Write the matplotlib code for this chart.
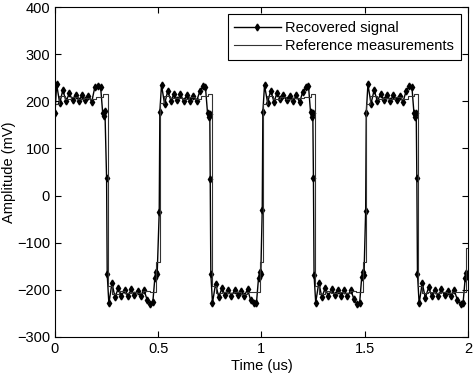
import numpy as np
import matplotlib
matplotlib.use('Agg')
import matplotlib.pyplot as plt

plt.rcParams['font.family'] = ['Liberation Sans', 'DejaVu Sans']

# recovered signal: edge times (us) and sample offsets inside each half period
rise_t = [-0.003, 0.505, 1.004, 1.505]
fall_t = [0.250, 0.752, 1.252, 1.753]
tau = [0.000, 0.003, 0.011, 0.026, 0.041, 0.057, 0.072, 0.088, 0.103, 0.119,
       0.134, 0.150, 0.165, 0.181, 0.196, 0.212, 0.224, 0.234, 0.240, 0.245]

high_1 = [175, 175, 236, 196, 224, 200, 217, 203, 214, 201, 213, 202, 212, 199, 230, 233, 231, 176, 168, 180]
high_2 = [-35, 178, 235, 194, 222, 201, 216, 202, 215, 200, 214, 201, 211, 200, 221, 232, 230, 175, 166, 174]
high_3 = [-30, 177, 234, 197, 223, 199, 218, 204, 213, 202, 212, 200, 213, 198, 220, 231, 233, 177, 167, 175]
high_4 = [-33, 176, 236, 195, 224, 200, 216, 203, 214, 201, 213, 202, 212, 199, 222, 232, 231, 175, 166, 175]

low_1 = [37, -167, -229, -186, -216, -196, -213, -200, -214, -199, -212, -202, -214, -200, -221, -230, -226, -174, -162, -167]
low_2 = [35, -166, -228, -187, -215, -197, -212, -201, -213, -200, -211, -203, -213, -199, -222, -229, -228, -175, -163, -166]
low_3 = [38, -168, -227, -185, -216, -196, -214, -199, -212, -200, -213, -201, -214, -200, -220, -231, -227, -173, -162, -168]
low_4 = [37, -166, -229, -186, -217, -195, -213, -200, -214, -199, -212, -202, -213, -201, -221, -230, -228, -176, -164, -170]

# reference measurements: sample-and-hold levels
ref_rise = [0.0, 0.508, 1.008, 1.508]
ref_fall = [0.258, 0.759, 1.258, 1.759]
ref_tau = [0.000, 0.020, 0.050, 0.080, 0.110, 0.140, 0.170, 0.200, 0.232]
ref_high = [
    [195, 212, 206, 209, 205, 208, 206, 210, 216],
    [196, 211, 207, 208, 206, 209, 205, 211, 215],
    [194, 212, 205, 209, 206, 208, 207, 210, 216],
    [195, 211, 206, 208, 205, 209, 206, 211, 215],
]
ref_low = [
    [-192, -208, -203, -207, -204, -207, -203, -205, -140],
    [-193, -207, -204, -206, -205, -208, -204, -204, -142],
    [-191, -208, -203, -207, -204, -206, -203, -205, -141],
    [-192, -207, -204, -206, -205, -207, -204, -205, -112],
]

highs = [high_1, high_2, high_3, high_4]
lows = [low_1, low_2, low_3, low_4]

t_rec, v_rec = [], []
for k in range(4):
    t_rec += [rise_t[k] + d for d in tau]
    v_rec += highs[k]
    t_rec += [fall_t[k] + d for d in tau]
    v_rec += lows[k]

t_ref, v_ref = [], []
for k in range(4):
    t_ref += [ref_rise[k] + d for d in ref_tau]
    v_ref += ref_high[k]
    t_ref += [ref_fall[k] + d for d in ref_tau]
    v_ref += ref_low[k]
t_ref.append(2.0)
v_ref.append(v_ref[-1])

fig = plt.figure(figsize=(4.74, 3.76), dpi=100)
ax = fig.add_axes([0.116, 0.104, 0.871, 0.877])

ax.plot(t_rec, v_rec, color='black', lw=1.0, marker='d', ms=3.5,
        label='Recovered signal')
ax.plot(t_ref, v_ref, color='#333333', lw=0.8, drawstyle='steps-post',
        label='Reference measurements')

ax.set_xlim(0, 2)
ax.set_ylim(-300, 400)
ax.set_xticks([0, 0.5, 1, 1.5, 2])
ax.set_xticklabels(['0', '0.5', '1', '1.5', '2'])
ax.set_yticks(np.arange(-300, 401, 100))
ax.tick_params(direction='in', top=True, right=True, length=4, width=0.8,
               labelsize=10.5, colors='black')
for s in ax.spines.values():
    s.set_linewidth(0.8)

ax.set_xlabel('Time (us)', fontsize=10.5, labelpad=2)
ax.set_ylabel('Amplitude (mV)', fontsize=10.5, labelpad=1)

leg = ax.legend(loc='upper right', numpoints=1, fontsize=10.5, fancybox=False,
                edgecolor='black', framealpha=1, handlelength=3.2,
                borderaxespad=0.5, borderpad=0.45, labelspacing=0.3,
                handletextpad=0.3)
leg.get_frame().set_linewidth(0.8)

plt.savefig('out.png', dpi=100)
